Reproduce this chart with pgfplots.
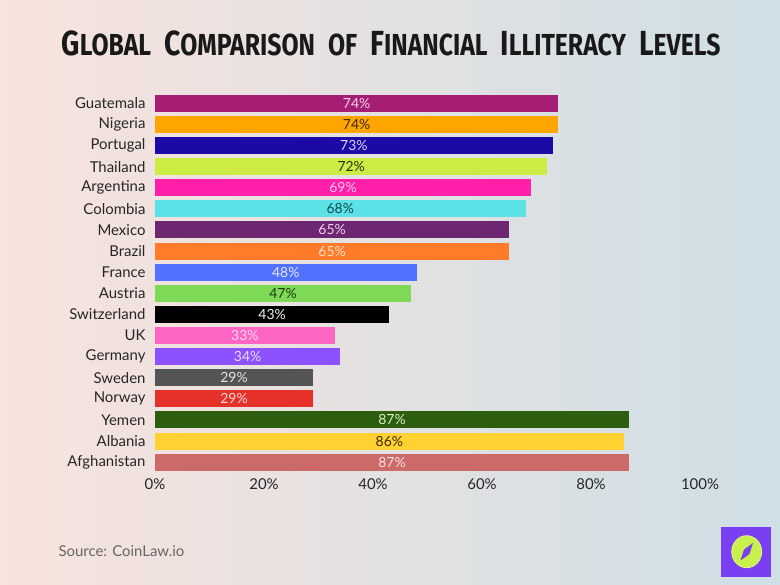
\documentclass[border=0pt]{standalone}
\usepackage{fontspec}
\usepackage{pgfplots}
\pgfplotsset{compat=1.18}
\setmainfont{Lato}
\newfontfamily\titlefont[FakeStretch=0.815]{Fira Sans}
\definecolor{bgL}{HTML}{F8E3DD}
\definecolor{bgM}{HTML}{F1ECE8}
\definecolor{bgR}{HTML}{CEDFE6}
\definecolor{cGua}{HTML}{A61E74}\definecolor{tGua}{HTML}{F5D0E8}
\definecolor{cNig}{HTML}{FFA500}\definecolor{tNig}{HTML}{3D2A00}
\definecolor{cPor}{HTML}{1B0AA5}\definecolor{tPor}{HTML}{D8D4FF}
\definecolor{cTha}{HTML}{CCEB45}\definecolor{tTha}{HTML}{2B3300}
\definecolor{cArg}{HTML}{FF1FA8}\definecolor{tArg}{HTML}{FFC6EA}
\definecolor{cCol}{HTML}{5CE1E6}\definecolor{tCol}{HTML}{0E4C50}
\definecolor{cMex}{HTML}{6D2770}\definecolor{tMex}{HTML}{F4CFF0}
\definecolor{cBra}{HTML}{FF7A29}\definecolor{tBra}{HTML}{FFE1C8}
\definecolor{cFra}{HTML}{5271FF}\definecolor{tFra}{HTML}{E3E8FF}
\definecolor{cAus}{HTML}{7ED957}\definecolor{tAus}{HTML}{1F3A14}
\definecolor{cSwi}{HTML}{000000}\definecolor{tSwi}{HTML}{F0F0F0}
\definecolor{cUK}{HTML}{FF66C4}\definecolor{tUK}{HTML}{FFD6EF}
\definecolor{cGer}{HTML}{8C52FF}\definecolor{tGer}{HTML}{E9DDFF}
\definecolor{cSwe}{HTML}{545454}\definecolor{tSwe}{HTML}{E5E5E5}
\definecolor{cNor}{HTML}{E6302A}\definecolor{tNor}{HTML}{FFD7D2}
\definecolor{cYem}{HTML}{2D5E0F}\definecolor{tYem}{HTML}{D8F0C0}
\definecolor{cAlb}{HTML}{FFD232}\definecolor{tAlb}{HTML}{3A2A00}
\definecolor{cAfg}{HTML}{CC6A6A}\definecolor{tAfg}{HTML}{FFE0E0}
\definecolor{logoP}{HTML}{7B3FF2}
\definecolor{logoL}{HTML}{C9F04B}
\newcommand{\onebar}[4]{%
  \addplot[fill=#3, draw=none, point meta=x,
    nodes near coords={#2\%},
    every node near coord/.style={anchor=center, xshift={-2.725bp*#2}, text=#4, font=\fontsize{14}{14}\selectfont}]
    coordinates {(#2,#1)};
}
\newcommand{\tc}[2]{{\fontsize{35}{35}\selectfont #1}{\fontsize{30.5}{30.5}\selectfont #2}}
\newcommand{\tsp}{\hspace{13bp}}
\begin{document}
\begin{tikzpicture}
\shade[left color=bgL, middle color=bgM, right color=bgR] (0bp,0bp) rectangle (780bp,585bp);
\node[font=\titlefont\bfseries, text=black!90, anchor=base, inner sep=0pt] at (391bp,529bp)
  {\tc{G}{LOBAL}\tsp\tc{C}{OMPARISON}\tsp\tc{}{OF}\tsp\tc{F}{INANCIAL}\tsp\tc{I}{LLITERACY}\tsp\tc{L}{EVELS}};
\begin{axis}[
  at={(155bp,112.3bp)}, anchor=south west,
  scale only axis, width=545bp, height=380bp,
  xbar, bar width=17bp, bar shift=0pt,
  xmin=0, xmax=100, ymin=-0.5, ymax=17.5, y dir=reverse,
  xtick={0,20,40,60,80,100},
  xticklabels={0\%,20\%,40\%,60\%,80\%,100\%},
  ytick={0,...,17},
  yticklabels={Guatemala,Nigeria,Portugal,Thailand,Argentina,Colombia,Mexico,Brazil,France,Austria,Switzerland,UK,Germany,Sweden,Norway,Yemen,Albania,Afghanistan},
  axis line style={draw=none}, major tick length=0pt,
  ticklabel style={font=\fontsize{15}{15}\selectfont, text=black!85},
  yticklabel style={xshift=-6bp},
  xticklabel style={yshift=-2bp},
  clip=false,
]
\onebar{0}{74}{cGua}{tGua}
\onebar{1}{74}{cNig}{tNig}
\onebar{2}{73}{cPor}{tPor}
\onebar{3}{72}{cTha}{tTha}
\onebar{4}{69}{cArg}{tArg}
\onebar{5}{68}{cCol}{tCol}
\onebar{6}{65}{cMex}{tMex}
\onebar{7}{65}{cBra}{tBra}
\onebar{8}{48}{cFra}{tFra}
\onebar{9}{47}{cAus}{tAus}
\onebar{10}{43}{cSwi}{tSwi}
\onebar{11}{33}{cUK}{tUK}
\onebar{12}{34}{cGer}{tGer}
\onebar{13}{29}{cSwe}{tSwe}
\onebar{14}{29}{cNor}{tNor}
\onebar{15}{87}{cYem}{tYem}
\onebar{16}{86}{cAlb}{tAlb}
\onebar{17}{87}{cAfg}{tAfg}
\end{axis}
\node[anchor=west, font=\fontsize{15}{15}\selectfont, text=black!60] at (55bp,34bp) {Source: CoinLaw.io};
\fill[logoP] (721bp,8bp) rectangle (771bp,58bp);
\filldraw[fill=logoL, draw=logoL!60!white, line width=0.8bp] (746.7bp,33.3bp) ellipse (15bp and 16bp);
\fill[logoP] (753bp,42bp) -- (749.5bp,31bp) -- (740.5bp,24.5bp) -- (744bp,35.5bp) -- cycle;
\end{tikzpicture}
\end{document}
